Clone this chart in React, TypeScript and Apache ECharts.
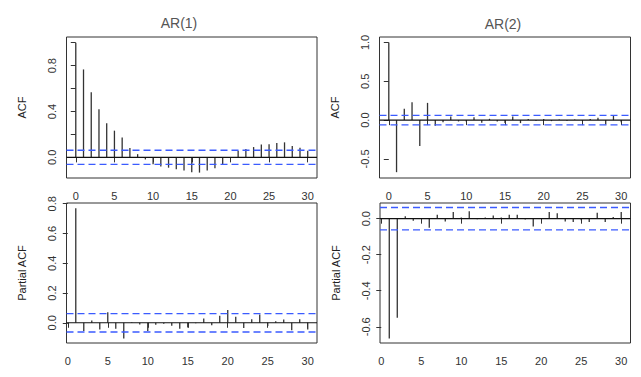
import { useEffect, useRef } from "react";
import * as echarts from "echarts";

const acfLags = [0, 1, 2, 3, 4, 5, 6, 7, 8, 9, 10, 11, 12, 13, 14, 15, 16, 17, 18, 19, 20, 21, 22, 23, 24, 25, 26, 27, 28, 29, 30];
const pacfLags = [1, 2, 3, 4, 5, 6, 7, 8, 9, 10, 11, 12, 13, 14, 15, 16, 17, 18, 19, 20, 21, 22, 23, 24, 25, 26, 27, 28, 29, 30];

const ar1Acf = [1.0, 0.767, 0.567, 0.42, 0.297, 0.233, 0.174, 0.082, 0.028, -0.018, -0.061, -0.08, -0.09, -0.103, -0.115, -0.129, -0.133, -0.115, -0.096, -0.061, 0.002, 0.057, 0.074, 0.09, 0.113, 0.115, 0.126, 0.131, 0.1, 0.084, 0.058];
const ar2Acf = [1.0, -0.67, 0.145, 0.23, -0.333, 0.222, -0.073, -0.026, 0.047, -0.017, -0.017, 0.038, -0.034, 0.017, -0.017, -0.038, 0.047, -0.038, 0.013, -0.009, 0.013, -0.013, 0.009, -0.009, 0.009, -0.013, 0.013, 0.03, -0.056, 0.064, -0.026];
const ar1Pacf = [0.77, -0.056, 0.016, -0.045, 0.071, -0.04, -0.105, 0.004, -0.011, -0.056, -0.013, -0.007, -0.02, -0.04, -0.031, -0.004, 0.029, -0.016, 0.047, 0.085, 0.04, -0.036, 0.024, 0.056, -0.022, 0.011, 0.022, -0.051, 0.024, -0.045];
const ar2Pacf = [-0.665, -0.55, 0.013, -0.011, 0.003, -0.05, 0.022, -0.015, 0.037, 0.007, 0.041, -0.003, 0.007, 0.017, 0.007, 0.022, 0.022, -0.004, -0.043, 0.002, 0.037, 0.03, -0.015, -0.019, -0.009, -0.019, 0.033, -0.019, 0.009, 0.037];

const confLimit = 0.062;
const xTicks = [0, 5, 10, 15, 20, 25, 30];
const ar1AcfYTicks = [0, 0.2, 0.4, 0.6, 0.8, 1.0];
const ar1AcfYLabels = [0, 0.4, 0.8];
const ar2AcfYTicks = [-0.5, 0, 0.5, 1.0];
const ar1PacfYTicks = [0, 0.2, 0.4, 0.6, 0.8];
const ar2PacfYTicks = [-0.6, -0.4, -0.2, 0];

const FONT = "'Liberation Sans', Arial, Helvetica, sans-serif";
const INK = "#333";
const BLUE = "#3b5bff";

type Panel = {
  grid: { left: number; right: number; top: number; bottom: number };
  xMin: number; xMax: number; yMin: number; yMax: number;
  yTicks: number[]; yLabels: number[]; yName: string;
  lags: number[]; values: number[];
};

const panels: Panel[] = [
  { grid: { left: 66.5, right: 324, top: 37, bottom: 199 }, xMin: -1.2, xMax: 31.2, yMin: -0.18, yMax: 1.05,
    yTicks: ar1AcfYTicks, yLabels: ar1AcfYLabels, yName: "ACF", lags: acfLags, values: ar1Acf },
  { grid: { left: 379.5, right: 10.5, top: 37, bottom: 199 }, xMin: -1.2, xMax: 31.2, yMin: -0.745, yMax: 1.07,
    yTicks: ar2AcfYTicks, yLabels: ar2AcfYTicks, yName: "ACF", lags: acfLags, values: ar2Acf },
  { grid: { left: 66.5, right: 324, top: 203, bottom: 34 }, xMin: -0.16, xMax: 31.16, yMin: -0.136, yMax: 0.805,
    yTicks: ar1PacfYTicks, yLabels: ar1PacfYTicks, yName: "Partial ACF", lags: pacfLags, values: ar1Pacf },
  { grid: { left: 380, right: 10.5, top: 203, bottom: 34 }, xMin: -0.16, xMax: 31.16, yMin: -0.69, yMax: 0.087,
    yTicks: ar2PacfYTicks, yLabels: ar2PacfYTicks, yName: "Partial ACF", lags: pacfLags, values: ar2Pacf },
];

export default function App() {
  const ref = useRef<HTMLDivElement>(null);
  useEffect(() => {
    if (!ref.current) return;
    const chart = echarts.init(ref.current, undefined, { renderer: "svg" });
    const grids = panels.map((p) => ({
      ...p.grid, show: true, borderColor: INK, borderWidth: 1, backgroundColor: "transparent", containLabel: false,
    }));
    const xAxes = panels.map((p, i) => ({
      type: "value", gridIndex: i, min: p.xMin, max: p.xMax,
      splitLine: { show: false }, axisLine: { show: false },
      axisTick: { show: true, length: 5, customValues: xTicks, lineStyle: { color: INK } },
      axisLabel: { customValues: xTicks, margin: 12, fontSize: 11, color: INK, fontFamily: FONT },
    }));
    const yAxes = panels.map((p, i) => ({
      type: "value", gridIndex: i, min: p.yMin, max: p.yMax,
      splitLine: { show: false }, axisLine: { show: false },
      axisTick: { show: true, length: 5, customValues: p.yTicks, lineStyle: { color: INK } },
      axisLabel: {
        customValues: p.yLabels, rotate: 90, margin: 9, fontSize: 11, color: INK, fontFamily: FONT,
        formatter: (v: number) => v.toFixed(1),
      },
      name: p.yName, nameLocation: "middle", nameRotate: 90, nameGap: 39,
      nameTextStyle: { fontSize: 11, color: "#222", fontFamily: FONT },
    }));
    const series: any[] = [];
    panels.forEach((p, i) => {
      series.push({
        type: "custom", xAxisIndex: i, yAxisIndex: i,
        data: p.lags.map((l, k) => [l, p.values[k]]),
        renderItem: (_params: any, api: any) => {
          const a = api.coord([api.value(0), 0]);
          const b = api.coord([api.value(0), api.value(1)]);
          return { type: "line", shape: { x1: a[0], y1: a[1], x2: b[0], y2: b[1] }, style: { stroke: INK, lineWidth: 1.3 } };
        },
      });
      series.push({
        type: "line", xAxisIndex: i, yAxisIndex: i, symbol: "none",
        data: [[p.xMin, 0], [p.xMax, 0]], lineStyle: { color: "#111", width: 1.2 },
      });
      [confLimit, -confLimit].forEach((c) => {
        series.push({
          type: "line", xAxisIndex: i, yAxisIndex: i, symbol: "none",
          data: [[p.xMin, c], [p.xMax, c]], lineStyle: { color: BLUE, width: 1.3, type: [7, 4] },
        });
      });
    });
    chart.setOption({
      animation: false,
      grid: grids, xAxis: xAxes, yAxis: yAxes, series,
      graphic: [
        { type: "text", x: 179, y: 23, style: { text: "AR(1)", textAlign: "center", textVerticalAlign: "middle", fontSize: 14, fill: "#555", fontFamily: FONT } },
        { type: "text", x: 503, y: 24, style: { text: "AR(2)", textAlign: "center", textVerticalAlign: "middle", fontSize: 14, fill: "#555", fontFamily: FONT } },
      ],
    });
    return () => chart.dispose();
  }, []);
  return <div ref={ref} style={{ width: 641, height: 377, position: "absolute", left: 0, top: 0, background: "#fff" }} />;
}
